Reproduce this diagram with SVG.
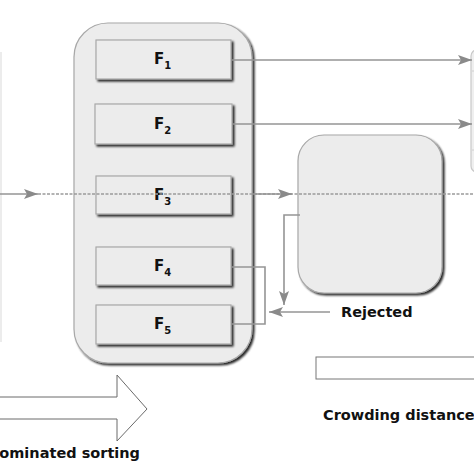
<svg xmlns="http://www.w3.org/2000/svg" width="474" height="474" viewBox="0 0 474 474">
<defs>
<style>
.box{fill:#ececec;stroke:#a8a8a8;stroke-width:1.2}
.lbl{font-family:"DejaVu Sans",Verdana,sans-serif;font-weight:bold;fill:#111}
.f{font-size:15px}
.sub{font-size:10px}
.t{font-size:14.5px}
.ln{fill:none;stroke:#959595;stroke-width:1.6}
</style>
<filter id="sh" x="-10%" y="-10%" width="130%" height="130%">
<feGaussianBlur in="SourceAlpha" stdDeviation="0.8"/>
<feOffset dx="2" dy="2" result="o"/>
<feComponentTransfer><feFuncA type="linear" slope="0.85"/></feComponentTransfer>
<feMerge><feMergeNode/><feMergeNode in="SourceGraphic"/></feMerge>
</filter>
<marker id="ah" viewBox="0 0 14 10" refX="14" refY="5" markerWidth="14" markerHeight="10" markerUnits="userSpaceOnUse" orient="auto">
<path d="M0,0 L14,5 L0,10 L3,5 Z" fill="#8a8a8a"/>
</marker>
</defs>
<rect width="474" height="474" fill="#fff"/>

<g id="left-box">
<line x1="1" y1="52" x2="1" y2="342" stroke="#e6e6e6" stroke-width="1.5"/>
</g>
<g id="right-box">
<rect x="471" y="50" width="20" height="122" rx="6" fill="#efefef" stroke="#c8c8c8" stroke-width="1.2"/>
<line x1="472" y1="71" x2="474" y2="71" stroke="#d0d0d0"/>
<line x1="472" y1="150" x2="474" y2="150" stroke="#d0d0d0"/>
</g>

<g id="container">
<rect x="74" y="23" width="178" height="340" rx="34" class="box" filter="url(#sh)"/>
</g>
<g id="middle-box">
<rect x="298" y="135" width="144" height="158" rx="26" class="box" filter="url(#sh)"/>
</g>

<g id="F1"><rect x="96" y="40" width="135" height="39" class="box" filter="url(#sh)"/>
<text class="lbl f" x="154" y="64">F<tspan class="sub" dy="5">1</tspan></text></g>
<g id="F2"><rect x="95" y="104" width="137" height="40" class="box" filter="url(#sh)"/>
<text class="lbl f" x="154" y="129">F<tspan class="sub" dy="5">2</tspan></text></g>
<g id="F3"><rect x="96" y="176" width="135" height="38" class="box" filter="url(#sh)"/>
<text class="lbl f" x="154" y="200">F<tspan class="sub" dy="5">3</tspan></text></g>
<g id="F4"><rect x="96" y="247" width="135" height="38" class="box" filter="url(#sh)"/>
<text class="lbl f" x="154" y="271">F<tspan class="sub" dy="5">4</tspan></text></g>
<g id="F5"><rect x="96" y="305" width="135" height="39" class="box" filter="url(#sh)"/>
<text class="lbl f" x="154" y="329">F<tspan class="sub" dy="5">5</tspan></text></g>

<g id="connectors">
<line x1="231" y1="60" x2="472" y2="60" class="ln" marker-end="url(#ah)"/>
<line x1="232" y1="124" x2="472" y2="124" class="ln" marker-end="url(#ah)"/>
<line x1="0" y1="194" x2="38" y2="194" class="ln" marker-end="url(#ah)"/>
<line x1="38" y1="194" x2="474" y2="194" stroke="#9a9a9a" stroke-width="1.4" stroke-dasharray="3 1.5"/>
<line x1="253" y1="194" x2="292" y2="194" class="ln" marker-end="url(#ah)"/>
<path d="M231,267 H265 V324 H231" class="ln" stroke-width="1.3"/>
<path d="M300,215 H284 V305" class="ln" marker-end="url(#ah)"/>
<line x1="330" y1="312" x2="269" y2="312" class="ln" marker-end="url(#ah)"/>
</g>

<g id="sorting-arrow">
<polygon points="-2,397 117,397 117,375 147,409 117,441 117,419 -2,419" fill="#fff" stroke="#6a6a6a" stroke-width="1"/>
</g>
<g id="crowding-bar">
<rect x="316" y="357" width="170" height="22" fill="#fff" stroke="#777" stroke-width="1"/>
</g>

<text class="lbl t" x="341" y="317">Rejected</text>
<text class="lbl t" x="323" y="420">Crowding distance</text>
<text class="lbl t" x="140" y="458" text-anchor="end">ominated sorting</text>
</svg>
